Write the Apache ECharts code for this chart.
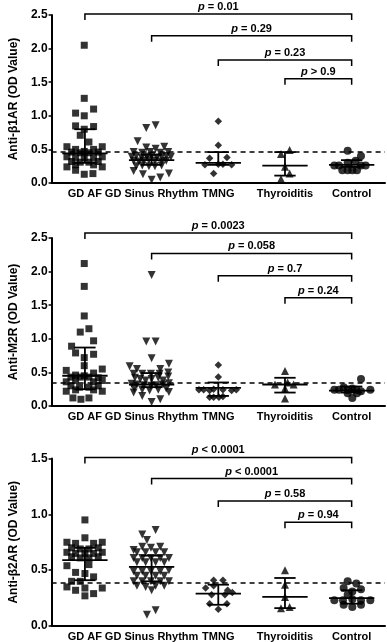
<!DOCTYPE html>
<html>
<head>
<meta charset="utf-8">
<script src="https://cdn.jsdelivr.net/npm/echarts@6/dist/echarts.min.js"></script>
<style>
  html, body { margin: 0; padding: 0; background: #fff; }
  #chart { width: 387px; height: 642px; }
</style>
</head>
<body>
<div id="chart"></div>
<script>
// groups on the x axis
const cats = ["GD AF", "GD Sinus Rhythm", "TMNG", "Thyroiditis", "Control"];
const yNames = ["Anti-\u03b21AR (OD Value)", "Anti-M2R (OD Value)", "Anti-\u03b22AR (OD Value)"];
const yMax = [2.5, 2.5, 1.5];
const cutoff = [0.46, 0.35, 0.39]; // dashed line

// points: [offset inside the group, OD value]
// panel 1 - anti-b1AR
const b1_gdaf = [[-0.01,2.05],[-0.01,1.26],[-0.14,1.04],[-0.01,1.0],[0.13,1.1],[-0.14,0.85],[0.13,0.84],[-0.01,0.8],[-0.07,0.71],[0.06,0.61],[-0.27,0.54],[0.26,0.54],[-0.14,0.5],[0.13,0.5],[-0.01,0.47],[-0.2,0.46],[-0.07,0.45],[0.06,0.45],[0.2,0.46],[-0.27,0.39],[-0.14,0.38],[-0.01,0.38],[0.13,0.38],[0.26,0.39],[-0.2,0.32],[-0.07,0.31],[0.06,0.31],[0.2,0.32],[-0.27,0.24],[-0.14,0.27],[0.13,0.27],[0.26,0.24],[-0.14,0.19],[-0.01,0.13],[0.12,0.14]];
const b1_sinus = [[-0.08,0.82],[0.06,0.86],[-0.21,0.62],[-0.08,0.53],[0.06,0.51],[0.19,0.54],[-0.27,0.46],[-0.14,0.45],[-0.02,0.46],[0.13,0.45],[0.25,0.46],[-0.3,0.39],[-0.23,0.4],[-0.15,0.38],[-0.07,0.39],[0,0.4],[0.08,0.38],[0.15,0.39],[0.22,0.4],[0.29,0.39],[-0.27,0.33],[-0.19,0.32],[-0.12,0.33],[-0.04,0.34],[0.05,0.33],[0.15,0.32],[0.22,0.33],[-0.23,0.25],[-0.14,0.26],[-0.04,0.25],[0.05,0.25],[0.15,0.26],[-0.27,0.18],[-0.13,0.13],[0,0.05],[0.13,0.08],[0.26,0.14]];
const b1_tmng = [[0,0.92],[0,0.56],[-0.13,0.37],[0.13,0.38],[-0.2,0.27],[0,0.28],[0.07,0.28],[0.2,0.27],[-0.07,0.14]];
const b1_thyr = [[-0.06,0.43],[0.07,0.49],[0,0.24],[0.07,0.14],[-0.06,0.06]];
const b1_ctrl = [[-0.06,0.48],[0.14,0.4],[0.06,0.33],[-0.06,0.3],[-0.26,0.26],[-0.19,0.26],[-0.14,0.19],[-0.06,0.19],[0.01,0.19],[0.08,0.19],[0.14,0.26],[0.21,0.26]];

// panel 2 - anti-M2R
const m2_gdaf = [[-0.01,2.12],[-0.01,1.78],[-0.01,1.34],[-0.07,1.1],[0.06,1.15],[0.13,0.97],[-0.2,0.89],[-0.14,0.79],[0.13,0.77],[-0.01,0.72],[-0.01,0.6],[-0.28,0.53],[0.26,0.55],[-0.14,0.46],[-0.01,0.45],[0.13,0.49],[-0.21,0.43],[-0.07,0.43],[0.06,0.43],[0.2,0.42],[-0.28,0.36],[-0.14,0.38],[0.13,0.36],[0.26,0.38],[-0.21,0.3],[-0.08,0.28],[0.06,0.28],[0.2,0.3],[-0.28,0.22],[-0.14,0.24],[0.13,0.24],[0.26,0.22],[-0.18,0.12],[-0.06,0.1],[0.06,0.12]];
const m2_sinus = [[0,1.95],[-0.08,0.96],[0.06,0.96],[0,0.71],[0.26,0.63],[-0.33,0.59],[-0.22,0.55],[0.13,0.55],[-0.27,0.48],[-0.14,0.48],[-0.01,0.48],[0.12,0.48],[0.25,0.5],[-0.25,0.42],[-0.17,0.4],[-0.09,0.38],[0,0.4],[0.1,0.42],[0.17,0.38],[0.25,0.44],[-0.3,0.33],[-0.22,0.32],[-0.12,0.31],[-0.01,0.3],[0.07,0.31],[0.17,0.32],[0.26,0.34],[-0.26,0.26],[-0.14,0.24],[-0.03,0.23],[0.1,0.24],[0.22,0.26],[-0.27,0.2],[-0.14,0.15],[0,0.06],[0.13,0.1],[0.26,0.21]];
const m2_tmng = [[0,0.61],[0,0.43],[-0.29,0.24],[-0.22,0.24],[-0.13,0.23],[-0.07,0.25],[0.07,0.24],[0.2,0.23],[0.27,0.24],[-0.13,0.13],[-0.07,0.13],[0.01,0.13],[0.07,0.14]];
const m2_thyr = [[0,0.52],[-0.15,0.32],[0.04,0.35],[0.13,0.32],[0,0.26],[0,0.11]];
const m2_ctrl = [[0.14,0.4],[-0.26,0.24],[-0.19,0.24],[-0.12,0.28],[-0.06,0.24],[0.01,0.26],[0.07,0.24],[0.14,0.22],[0.28,0.24],[-0.06,0.19],[0.01,0.12],[0.08,0.19]];

// panel 3 - anti-b2AR
const b2_gdaf = [[0,0.95],[0,0.79],[-0.27,0.75],[-0.14,0.74],[0.13,0.74],[0.26,0.75],[-0.2,0.7],[-0.07,0.69],[0.06,0.69],[0.2,0.7],[-0.27,0.66],[-0.14,0.65],[0,0.65],[0.13,0.65],[0.26,0.66],[-0.2,0.62],[-0.07,0.61],[0.06,0.61],[0.2,0.62],[-0.27,0.54],[0.06,0.55],[-0.14,0.48],[0,0.47],[0.13,0.44],[-0.2,0.4],[-0.07,0.4],[-0.27,0.35],[0,0.34],[0.26,0.34],[-0.14,0.32],[0.13,0.29],[0,0.27]];
const b2_sinus = [[0.06,0.86],[-0.14,0.82],[-0.07,0.77],[-0.27,0.68],[-0.14,0.71],[-0.01,0.7],[0.13,0.71],[-0.22,0.66],[-0.09,0.66],[0.06,0.66],[0.19,0.66],[-0.27,0.61],[-0.14,0.61],[-0.01,0.61],[0.13,0.61],[0.26,0.61],[-0.22,0.57],[-0.09,0.57],[0.06,0.57],[0.19,0.57],[-0.27,0.49],[-0.14,0.49],[-0.01,0.49],[0.13,0.49],[0.26,0.5],[-0.22,0.45],[-0.09,0.45],[0.06,0.45],[0.19,0.45],[-0.27,0.4],[-0.14,0.4],[-0.01,0.4],[0.13,0.4],[0.26,0.4],[-0.22,0.36],[-0.09,0.35],[0.06,0.36],[0.19,0.36],[0,0.32],[-0.07,0.1],[0.06,0.14]];
const b2_tmng = [[-0.07,0.41],[0.07,0.41],[-0.19,0.34],[-0.07,0.36],[0.14,0.32],[0.21,0.3],[-0.1,0.28],[0.1,0.28],[-0.13,0.2],[0.13,0.2],[0,0.15]];
const b2_thyr = [[0,0.5],[0,0.37],[0,0.26],[-0.06,0.16],[0.07,0.17]];
const b2_ctrl = [[-0.06,0.4],[0.07,0.38],[-0.12,0.34],[0.14,0.33],[0.01,0.31],[-0.06,0.28],[-0.26,0.23],[-0.13,0.23],[0.01,0.24],[0.14,0.23],[0.28,0.23],[-0.12,0.19],[0.01,0.17],[0.14,0.19]];

// median with interquartile range, per group
const med = [[0.44,0.34,0.30,0.26,0.27],[0.45,0.32,0.27,0.32,0.23],[0.59,0.53,0.29,0.26,0.25]];
const q1 = [[0.30,0.27,0.27,0.11,0.24],[0.25,0.28,0.15,0.20,0.20],[0.41,0.40,0.19,0.16,0.20]];
const q3 = [[0.80,0.42,0.46,0.46,0.34],[0.87,0.49,0.35,0.42,0.29],[0.70,0.63,0.37,0.43,0.32]];

// comparisons against control
const pairs = [[0, 4], [1, 4], [2, 4], [3, 4]];
const pText = [
  ["= 0.01", "= 0.29", "= 0.23", "> 0.9"],
  ["= 0.0023", "= 0.058", "= 0.7", "= 0.24"],
  ["< 0.0001", "< 0.0001", "= 0.58", "= 0.94"]
];
const pLevel = [[2.515, 2.19, 1.83, 1.55], [2.575, 2.27, 1.94, 1.61], [1.51, 1.32, 1.12, 0.93]];

const points = [
  [b1_gdaf, b1_sinus, b1_tmng, b1_thyr, b1_ctrl],
  [m2_gdaf, m2_sinus, m2_tmng, m2_thyr, m2_ctrl],
  [b2_gdaf, b2_sinus, b2_tmng, b2_thyr, b2_ctrl]
];

const symbols = ["rect", "triangle", "diamond", "triangle", "circle"];
const symRot = [0, 180, 0, 0, 0];
const symSize = [7, 8, 7.5, 8, 8];
const FONT = "'Liberation Sans', Arial, sans-serif";

var chart = echarts.init(document.getElementById("chart"));

let grids = [];
let xAxes = [];
let yAxes = [];
let series = [];
const tops = [15, 238, 458.5];
const heights = [168, 168, 168.5];

for (let p = 0; p < 3; p++) {
  grids.push({ left: 39, right: 2, top: tops[p], height: heights[p] });
  // hidden value axis used to place points
  xAxes.push({
    type: "value", gridIndex: p, min: -0.5, max: 4.5, show: false, position: "bottom",
  });
  // visible category axis for the group names
  xAxes.push({
    type: "category", gridIndex: p, data: cats, boundaryGap: true, position: "bottom",
    axisLine: { show: true, onZero: false, lineStyle: { color: "#000", width: 2 } },
    axisTick: { show: false },
    axisLabel: { color: "#000", fontWeight: "bold", fontSize: 11, fontFamily: FONT, margin: 5, interval: 0 },
    splitLine: { show: false },
  });
  yAxes.push({
    type: "value", gridIndex: p, min: 0, max: yMax[p], interval: 0.5, position: "left",
    name: yNames[p], nameLocation: "middle", nameGap: 23,
    nameTextStyle: { color: "#000", fontWeight: "bold", fontSize: 12, fontFamily: FONT },
    axisLine: { show: true, onZero: false, lineStyle: { color: "#000", width: 2 } },
    axisTick: { show: true, length: 3, lineStyle: { color: "#000", width: 1.5 } },
    axisLabel: {
      color: "#000", fontWeight: "bold", fontSize: 12, fontFamily: FONT, margin: 4,
      formatter: (v) => v.toFixed(1),
    },
    splitLine: { show: false },
  });

  points[p].forEach((pts, gi) => {
    let s = {
      type: "scatter",
      xAxisIndex: p * 2,
      yAxisIndex: p,
      symbol: symbols[gi],
      symbolRotate: symRot[gi],
      symbolSize: symSize[gi],
      itemStyle: { color: "#000" },
      data: pts.map((d) => [gi + d[0], d[1]]),
      silent: true,
      z: 3,
    };
    if (gi === 0) {
      s.markLine = {
        silent: true,
        symbol: "none",
        label: { show: false },
        lineStyle: { color: "#000", type: [5, 4], width: 1.7 },
        data: [{ yAxis: cutoff[p] }],
      };
    }
    series.push(s);
  });

  // median + IQR bars
  series.push({
    type: "custom",
    xAxisIndex: p * 2,
    yAxisIndex: p,
    z: 4,
    silent: true,
    data: cats.map((c, i) => [i, med[p][i], q1[p][i], q3[p][i]]),
    encode: { x: 0, y: [1, 2, 3] },
    renderItem: function (params, api) {
      let i = api.value(0);
      let m = api.value(1), lo = api.value(2), hi = api.value(3);
      let mL = api.coord([i - 0.34, m]), mR = api.coord([i + 0.34, m]);
      let top = api.coord([i, hi]), bot = api.coord([i, lo]);
      let cw = api.coord([i + 0.16, hi])[0] - top[0];
      let st = { stroke: "#000", lineWidth: 1.8 };
      return {
        type: "group",
        children: [
          { type: "line", shape: { x1: mL[0], y1: mL[1], x2: mR[0], y2: mR[1] }, style: st },
          { type: "line", shape: { x1: top[0], y1: top[1], x2: bot[0], y2: bot[1] }, style: st },
          { type: "line", shape: { x1: top[0] - cw, y1: top[1], x2: top[0] + cw, y2: top[1] }, style: st },
          { type: "line", shape: { x1: bot[0] - cw, y1: bot[1], x2: bot[0] + cw, y2: bot[1] }, style: st },
        ],
      };
    },
  });

  // significance brackets
  series.push({
    type: "custom",
    xAxisIndex: p * 2,
    yAxisIndex: p,
    z: 5,
    silent: true,
    clip: false,
    data: pairs.map((pr, k) => [pr[0], pr[1], pLevel[p][k], k]),
    encode: { x: [0, 1], y: 2 },
    renderItem: function (params, api) {
      let a = api.coord([api.value(0), api.value(2)]);
      let b = api.coord([api.value(1), api.value(2)]);
      let k = api.value(3);
      let leg = 6;
      return {
        type: "group",
        children: [
          {
            type: "polyline",
            shape: { points: [[a[0], a[1] + leg], [a[0], a[1]], [b[0], b[1]], [b[0], b[1] + leg]] },
            style: { stroke: "#000", lineWidth: 1.5, fill: null },
          },
          {
            type: "text",
            x: (a[0] + b[0]) / 2,
            y: a[1] - 1.5,
            style: {
              text: "{i|p} " + pText[p][k],
              fill: "#000",
              font: "bold 11px " + FONT,
              align: "center",
              verticalAlign: "bottom",
              rich: {
                i: { fontStyle: "italic", fontWeight: "bold", fontSize: 11, fontFamily: FONT, fill: "#000" },
              },
            },
          },
        ],
      };
    },
  });
}

chart.setOption({
  animation: false,
  backgroundColor: "#fff",
  grid: grids,
  xAxis: xAxes,
  yAxis: yAxes,
  series: series,
});
</script>
</body>
</html>
